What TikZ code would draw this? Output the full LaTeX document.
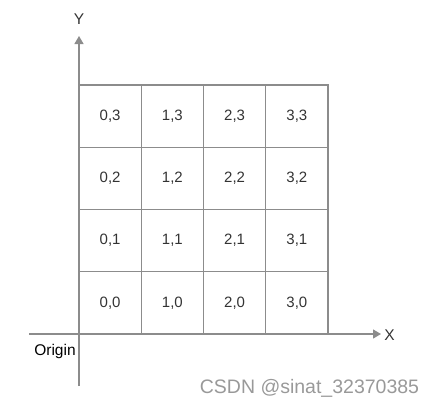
\documentclass[tikz,border=0pt]{standalone}
\usepackage{fontspec}
\setmainfont{Liberation Sans}
\usetikzlibrary{arrows.meta}
\definecolor{linegray}{HTML}{8C8C8C}
\definecolor{txt}{HTML}{333333}
\begin{document}
\begin{tikzpicture}[x=1pt,y=-1pt,
  cell/.style={draw=linegray,line width=1.2pt,minimum width=62.25pt,minimum height=62.25pt,inner sep=0pt,
    font=\fontsize{15}{16}\selectfont,text=txt},
  axis/.style={draw=linegray,line width=1.2pt,-{Triangle[length=8pt,width=9pt]}},
  lab/.style={font=\fontsize{15.5}{16}\selectfont,text=txt,inner sep=0pt}]
\useasboundingbox (0,0) rectangle (436,408);
\foreach \i in {0,...,3}{
  \foreach \j in {0,...,3}{
    \node[cell] (c\i\j) at ({79+62.25*\i+31.125},{334-62.25*\j-31.125}) {\i,\j};
  }
}
\coordinate (o) at (79,334);
\coordinate (ybot) at (79,386);
\coordinate (ytop) at (79,36);
\coordinate (xl) at (29,334);
\coordinate (xr) at (381,334);
\draw[axis] (ybot) -- (ytop);
\draw[axis] (xl) -- (xr);
\node[lab] (Y) at (79,19) {Y};
\node[lab] (X) at (389.5,335) {X};
\node[font=\fontsize{15.5}{16}\selectfont,text=black,inner sep=0pt] (orig) at (55,351) {Origin};
\node[font=\fontsize{19.5}{20}\selectfont,text=black!40,inner sep=0pt] (wm) at (309.5,388) {CSDN @sinat\_32370385};
\end{tikzpicture}
\end{document}
